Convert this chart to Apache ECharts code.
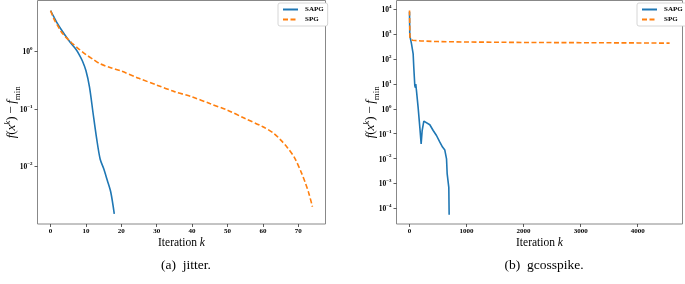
<!DOCTYPE html>
<html>
<head>
<meta charset="utf-8">
<script src="https://cdn.jsdelivr.net/npm/echarts@6/dist/echarts.min.js"></script>
<style>
  html, body { margin: 0; padding: 0; background: #fff; }
  #cn { width: 685px; height: 284px; }
</style>
</head>
<body>
<div id="cn"></div>
<script>
'use strict';

// (a) jitter
const jitSapgIter = [0, 1, 2, 3, 4, 5, 6, 7, 8, 9, 10, 11, 12, 13, 14, 15, 16, 17, 18];
const jitSapgVal = [5.1, 3.9, 3.0, 2.4, 1.95, 1.6, 1.33, 1.12, 0.9, 0.68, 0.46, 0.24, 0.085, 0.031, 0.0135, 0.0092, 0.0058, 0.0036, 0.0015];
const jitSpgIter = [0, 1, 2, 3, 4, 5, 6, 8, 10, 12, 14, 17, 20, 25, 30, 35, 40, 45, 50, 55, 60, 63, 65, 67, 69, 71, 72, 73, 74];
const jitSpgVal = [5.1, 3.6, 2.8, 2.2, 1.85, 1.6, 1.4, 1.1, 0.88, 0.73, 0.61, 0.52, 0.455, 0.34, 0.26, 0.2, 0.162, 0.124, 0.095, 0.068, 0.049, 0.038, 0.029, 0.021, 0.014, 0.0075, 0.0052, 0.0034, 0.002];

// (b) gcosspike
const gcsSapgIter = [0, 5, 35, 64, 75, 93, 105, 110, 122, 151, 181, 204, 222, 251, 286, 356, 415, 473, 532, 579, 619, 649, 660, 677, 689, 695];
const gcsSapgVal = [8000, 900, 410, 162, 47, 8.6, 7.0, 10, 5.4, 1.15, 0.18, 0.039, 0.135, 0.32, 0.34, 0.23, 0.135, 0.085, 0.046, 0.029, 0.022, 0.0098, 0.0025, 0.0026, 0.0007, 0.000055];
const gcsSpgIter = [0, 8, 20, 50, 100, 200, 500, 1000, 2000, 3000, 4000, 4560];
const gcsSpgVal = [9000, 680, 610, 580, 560, 540, 510, 490, 470, 460, 450, 440];

const xTicksA = [0, 10, 20, 30, 40, 50, 60, 70];
const yTicksA = [0.01, 0.1, 1];
const xTicksB = [0, 1000, 2000, 3000, 4000];
const yTicksB = [1e-4, 1e-3, 1e-2, 1e-1, 1, 10, 100, 1000, 10000];

const cBlue = '#1f77b4';
const cOrange = '#ff7f0e';
const serif = '"Liberation Serif", "DejaVu Serif", serif';

const pairs = (xs, ys) => xs.map((x, i) => [x, ys[i]]);

const tickLabel = (v) => {
    const e = Math.round(Math.log10(v));
    return '{b|10}{s|' + String(e).replace('-', '\u2212') + '}';
};

const tickRich = {
    b: { fontFamily: serif, fontWeight: 'bold', fontSize: 7.5, color: '#000', lineHeight: 10, verticalAlign: 'bottom' },
    s: { fontFamily: serif, fontWeight: 'bold', fontSize: 5, color: '#000', lineHeight: 10, verticalAlign: 'top' }
};

const nameRich = {
    i: { fontFamily: serif, fontStyle: 'italic', fontSize: 13, color: '#000', lineHeight: 16, verticalAlign: 'middle' },
    n: { fontFamily: serif, fontSize: 13, color: '#000', lineHeight: 16, verticalAlign: 'middle' },
    sup: { fontFamily: serif, fontStyle: 'italic', fontSize: 9, color: '#000', lineHeight: 16, verticalAlign: 'top' },
    sub: { fontFamily: serif, fontSize: 9, color: '#000', lineHeight: 16, verticalAlign: 'bottom', padding: [0, 0, -3, 0] }
};

const xNameRich = {
    i: { fontFamily: serif, fontStyle: 'italic', fontSize: 11.5, color: '#000' },
    n: { fontFamily: serif, fontSize: 11.5, color: '#000' }
};

const mkXAxis = (idx, min, max, ticks) => ({
    type: 'value',
    gridIndex: idx,
    min: min,
    max: max,
    name: '{n|Iteration }{i|k}',
    nameLocation: 'middle',
    nameGap: 13,
    nameMoveOverlap: false,
    nameTextStyle: { rich: xNameRich },
    axisLine: { show: false, onZero: false },
    axisTick: { show: true, length: 3, customValues: ticks, lineStyle: { color: '#333', width: 0.8 } },
    axisLabel: {
        customValues: ticks,
        margin: 4,
        formatter: (v) => String(v),
        fontFamily: serif,
        fontWeight: 'bold',
        fontSize: 7,
        color: '#000'
    },
    splitLine: { show: false }
});

const mkYAxis = (idx, min, max, ticks) => ({
    type: 'log',
    logBase: 10,
    gridIndex: idx,
    min: min,
    max: max,
    name: '{i|f}{n|(}{i|x}{sup|k}{n|)\u2009\u2212\u2009}{i|f}{sub|min}',
    nameLocation: 'middle',
    nameRotate: 90,
    nameGap: 18,
    nameMoveOverlap: false,
    nameTextStyle: { rich: nameRich },
    axisLine: { show: false, onZero: false },
    axisTick: { show: true, length: 3, customValues: ticks, lineStyle: { color: '#333', width: 0.8 } },
    axisLabel: {
        customValues: ticks,
        margin: 5,
        formatter: tickLabel,
        rich: tickRich
    },
    splitLine: { show: false }
});

const mkLegend = (left) => ({
    left: left,
    top: 3,
    orient: 'vertical',
    itemWidth: 15,
    itemHeight: 6,
    itemGap: 3,
    padding: [3, 4, 3, 4],
    backgroundColor: '#fff',
    borderColor: '#ccc',
    borderWidth: 0.8,
    borderRadius: 2,
    itemStyle: { opacity: 0 },
    textStyle: { fontFamily: serif, fontWeight: 'bold', fontSize: 7, color: '#000', padding: [0, 0, 0, 2] },
    data: ['SAPG', 'SPG']
});

const mkLine = (name, idx, data, color, dashed, smooth) => ({
    name: name,
    type: 'line',
    xAxisIndex: idx,
    yAxisIndex: idx,
    data: data,
    symbol: 'none',
    showSymbol: false,
    smooth: smooth,
    animation: false,
    lineStyle: { width: 1.6, color: color, type: dashed ? [5, 2.5] : 'solid' },
    itemStyle: { color: color }
});

const chart = echarts.init(document.getElementById('cn'), null, { renderer: 'canvas' });

const option = {
    animation: false,
    grid: [
        { left: 37.5, top: 0.5, width: 288, height: 223.5, show: true, borderColor: '#888', borderWidth: 1, backgroundColor: 'transparent' },
        { left: 396.5, top: 0.5, width: 286, height: 223.5, show: true, borderColor: '#888', borderWidth: 1, backgroundColor: 'transparent' }
    ],
    xAxis: [
        mkXAxis(0, -3.7, 77.7, xTicksA),
        mkXAxis(1, -228, 4786, xTicksB)
    ],
    yAxis: [
        mkYAxis(0, 0.001, 7.67, yTicksA),
        mkYAxis(1, 2.34e-5, 22900, yTicksB)
    ],
    legend: [mkLegend(278), mkLegend(637)],
    title: [
        { text: '(a)  jitter.', left: 181, top: 253, textAlign: 'center', textStyle: { fontFamily: serif, fontWeight: 'normal', fontSize: 13.5, color: '#000' } },
        { text: '(b)  gcosspike.', left: 539, top: 253, textAlign: 'center', textStyle: { fontFamily: serif, fontWeight: 'normal', fontSize: 13.5, color: '#000' } }
    ],
    series: [
        mkLine('SAPG', 0, pairs(jitSapgIter, jitSapgVal), cBlue, false, 0.3),
        mkLine('SPG', 0, pairs(jitSpgIter, jitSpgVal), cOrange, true, 0.3),
        mkLine('SAPG', 1, pairs(gcsSapgIter, gcsSapgVal), cBlue, false, false),
        mkLine('SPG', 1, pairs(gcsSpgIter, gcsSpgVal), cOrange, true, false)
    ]
};

chart.setOption(option);
</script>
</body>
</html>
